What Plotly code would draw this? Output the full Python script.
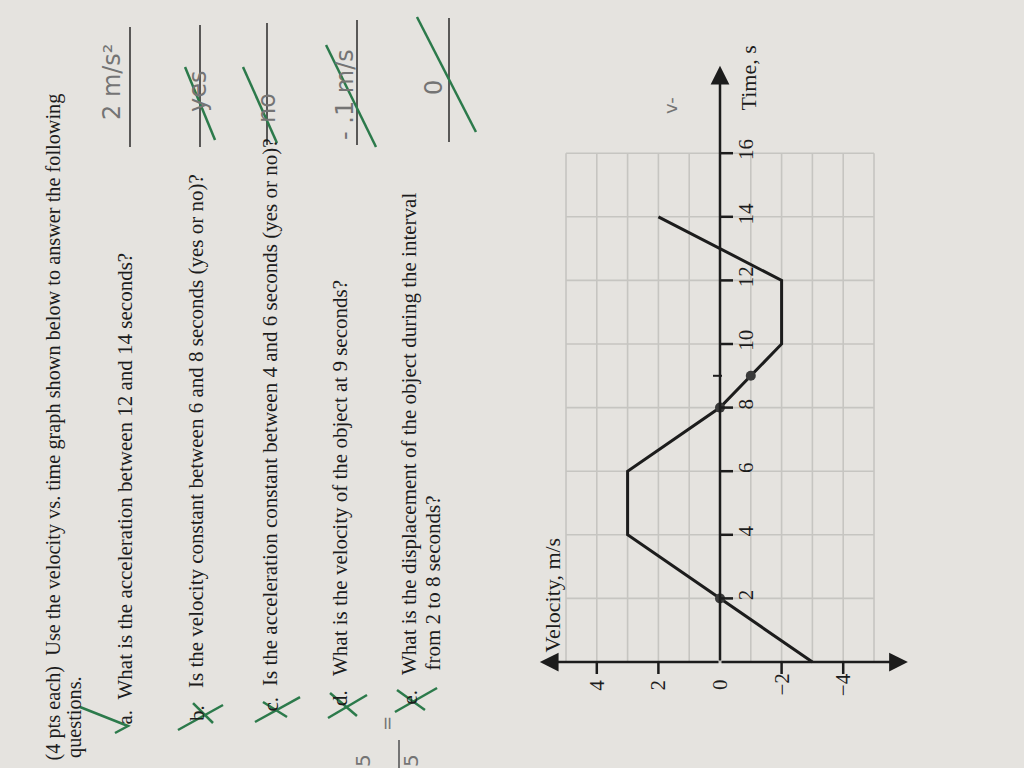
import plotly.graph_objects as go

# velocity vs. time graph from the worksheet (photo is turned a quarter turn)
time_s = [0, 2, 4, 6, 8, 10, 12, 14]
velocity_ms = [-3, 0, 3, 3, 0, -2, -2, 2]

# the points that are marked with a dot
dot_time = [2, 8, 9]
dot_velocity = [0, 0, -1]

velocity_ticks = [4, 2, 0, -2, -4]
time_ticks = [2, 4, 6, 8, 10, 12, 14, 16]
velocity_grid = [-5, -4, -3, -2, -1, 0, 1, 2, 3, 4, 5]
time_grid = [0, 2, 4, 6, 8, 10, 12, 14, 16]

header = ["(4 pts each)  Use the velocity vs. time graph shown below to answer the following",
          "questions."]
question_labels = ["a.", "b.", "c.", "d.", "e."]
questions = ["What is the acceleration between 12 and 14 seconds?",
             "Is the velocity constant between 6 and 8 seconds (yes or no)?",
             "Is the acceleration constant between 4 and 6 seconds (yes or no)?",
             "What is the velocity of the object at 9 seconds?",
             "What is the displacement of the object during the interval"]
question_extra = "from 2 to 8 seconds?"
answers = ["2 m/s²", "yes", "no", "- .1 m/s", "0"]

W, H = 1024, 768
V0, T0 = 720, 662          # pixel position of v=0 column and t=0 row
VS, TS = 30.8, 31.8        # pixels per unit

def P(x, y):
    return x / W, 1 - y / H

ink = "#1c1c1c"
pencil = "#747474"
green = "#2c7a4b"
serif = "Liberation Serif"

fig = go.Figure()
fig.add_trace(go.Scatter(x=velocity_ms, y=time_s, mode="lines",
                         line=dict(color=ink, width=3), hoverinfo="skip"))
fig.add_trace(go.Scatter(x=dot_velocity, y=dot_time, mode="markers",
                         marker=dict(size=10, color="#3a3a3a"), hoverinfo="skip"))

shapes = []
for v in velocity_grid:
    shapes.append(dict(type="line", xref="x", yref="y", x0=v, x1=v, y0=time_grid[0], y1=time_grid[-1],
                       line=dict(color="#c6c5c1", width=1.6), layer="below"))
for t in time_grid:
    shapes.append(dict(type="line", xref="x", yref="y", x0=velocity_grid[0], x1=velocity_grid[-1], y0=t, y1=t,
                       line=dict(color="#c6c5c1", width=1.6), layer="below"))
for v in velocity_ticks:
    if v != 0:
        shapes.append(dict(type="line", xref="x", yref="y", x0=v, x1=v, y0=0, y1=-12 / TS,
                           line=dict(color=ink, width=2.5)))
for t in time_ticks:
    shapes.append(dict(type="line", xref="x", yref="y", x0=0, x1=-13 / VS, y0=t, y1=t,
                       line=dict(color=ink, width=2.5)))
shapes.append(dict(type="line", xref="x", yref="y", x0=7 / VS, x1=-2 / VS, y0=9, y1=9,
                   line=dict(color=ink, width=2)))

# answer blanks
for x, y0, y1 in [(130, 27, 147), (200, 25, 147), (267, 23, 145), (357, 20, 145), (449, 18, 142)]:
    a, b = P(x, y0), P(x, y1)
    shapes.append(dict(type="line", xref="paper", yref="paper", x0=a[0], y0=a[1], x1=b[0], y1=b[1],
                       line=dict(color="#2a2a2a", width=1.5)))

# green grading marks
strokes = [[(185, 67), (215, 140)], [(243, 67), (277, 143)], [(326, 45), (376, 147)], [(417, 17), (476, 132)],
           [(115, 733), (128, 726), (80, 707)],
           [(178, 730), (223, 705)], [(193, 703), (213, 723)],
           [(255, 722), (300, 697)], [(263, 702), (287, 717)],
           [(328, 718), (367, 695)], [(330, 693), (357, 716)],
           [(395, 712), (437, 688)], [(397, 690), (425, 710)]]
for s in strokes:
    pts = [P(x, y) for x, y in s]
    path = "M " + " L ".join(f"{x:.4f},{y:.4f}" for x, y in pts)
    shapes.append(dict(type="path", xref="paper", yref="paper", path=path,
                       line=dict(color=green, width=2.5)))

# fraction bar scribbled at the bottom left
a, b = P(399, 740), P(399, 768)
shapes.append(dict(type="line", xref="paper", yref="paper", x0=a[0], y0=a[1], x1=b[0], y1=b[1],
                   line=dict(color=pencil, width=2)))

ann = []
# axes with arrow heads
for tip in [(0, 18.75), (5.85, 0), (-6.1, 0)]:
    ann.append(dict(x=tip[0], y=tip[1], ax=0, ay=0, xref="x", yref="y", axref="x", ayref="y",
                    text="", showarrow=True, arrowhead=2, arrowsize=1.5, arrowwidth=2.5, arrowcolor=ink))
for v in velocity_ticks:
    ann.append(dict(x=v, y=-23 / TS, xref="x", yref="y", text=str(v).replace("-", "−"), showarrow=False,
                    textangle=-90, font=dict(family=serif, size=21, color=ink)))
for t in time_ticks:
    ann.append(dict(x=-26 / VS, y=t + 0.1, xref="x", yref="y", text=str(t), showarrow=False,
                    textangle=-90, font=dict(family=serif, size=21, color=ink)))

def text(s, x, y, size=21, color=ink, xa="center", ya="bottom", family=serif):
    px, py = P(x, y)
    ann.append(dict(x=px, y=py, xref="paper", yref="paper", text=s, showarrow=False, textangle=-90,
                    xanchor=xa, yanchor=ya, font=dict(family=family, size=size, color=color)))

text("Velocity, m/s", 552, 655, size=22)
text("Time, s", 748, 113, size=22)

text(header[0], 53, 763, size=20.3)
text(header[1], 74, 760, size=20.3)
label_pos = [(124, 727), (197, 723), (270, 714), (340, 708), (409, 707)]
text_pos = [(124, 702), (196, 690), (270, 688), (340, 678), (409, 677)]
for lab, q, lp, tp in zip(question_labels, questions, label_pos, text_pos):
    text(lab, lp[0], lp[1])
    text(q, tp[0], tp[1])
text(question_extra, 432, 673)

answer_pos = [(112, 82), (198, 92), (267, 108), (345, 95), (434, 88)]
for s, p in zip(answers, answer_pos):
    text(s, p[0], p[1], size=24, color=pencil, ya="middle", family="DejaVu Sans")
text("=", 386, 724, size=18, color=pencil, ya="middle", family="DejaVu Sans")
text("5", 363, 761, size=20, color=pencil, ya="middle", family="DejaVu Sans")
text("5", 411, 761, size=20, color=pencil, ya="middle", family="DejaVu Sans")
text("v-", 670, 106, size=18, color=pencil, ya="middle", family="DejaVu Sans")

fig.update_layout(
    width=W, height=H, margin=dict(l=0, r=0, t=0, b=0),
    paper_bgcolor="#e5e3df", plot_bgcolor="#e5e3df",
    showlegend=False, shapes=shapes, annotations=ann,
    xaxis=dict(range=[V0 / VS, -(W - V0) / VS], visible=False, fixedrange=True),
    yaxis=dict(range=[-(H - T0) / TS, T0 / TS], visible=False, fixedrange=True),
)

fig.write_html("out.html", config={"displayModeBar": False},
               post_script="document.body.style.margin='0';")
